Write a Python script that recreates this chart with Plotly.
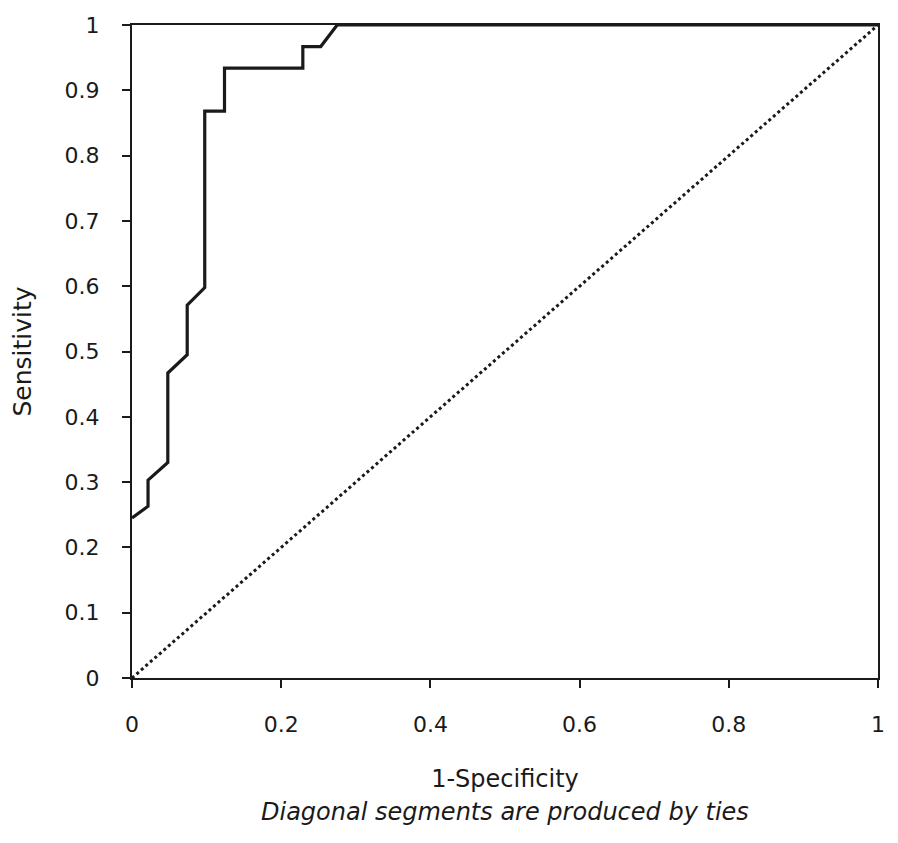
import plotly.graph_objects as go

# ROC curve (1-specificity, sensitivity)
fpr = [0, 0.0215, 0.0215, 0.048, 0.048, 0.074, 0.074, 0.0975, 0.0975,
       0.124, 0.124, 0.229, 0.229, 0.253, 0.275, 1]
tpr = [0.245, 0.263, 0.303, 0.330, 0.467, 0.495, 0.571, 0.598, 0.868,
       0.868, 0.934, 0.934, 0.967, 0.967, 1.0, 1.0]

# chance line
ref_x = [0, 1]
ref_y = [0, 1]

tick_vals_x = [0, 0.2, 0.4, 0.6, 0.8, 1]
tick_text_x = ["0", "0.2", "0.4", "0.6", "0.8", "1"]
tick_vals_y = [0, 0.1, 0.2, 0.3, 0.4, 0.5, 0.6, 0.7, 0.8, 0.9, 1]
tick_text_y = ["0", "0.1", "0.2", "0.3", "0.4", "0.5", "0.6", "0.7", "0.8", "0.9", "1"]

fnt = "DejaVu Sans, sans-serif"
ink = "#1a1a1a"

fig = go.Figure()
fig.add_trace(go.Scatter(x=ref_x, y=ref_y, mode="lines",
                         line=dict(color=ink, width=3, dash="dot"),
                         hoverinfo="skip"))
fig.add_trace(go.Scatter(x=fpr, y=tpr, mode="lines",
                         line=dict(color=ink, width=3.2)))

axis_common = dict(range=[0, 1], showgrid=False, zeroline=False,
                   showline=True, linecolor=ink, linewidth=2,
                   mirror=True, ticks="outside", ticklen=8, tickwidth=2,
                   tickcolor=ink, ticklabeloverflow="allow",
                   tickfont=dict(family=fnt, size=22, color=ink))

# page body keeps its 8px margin, so the figure is a bit smaller than the window
fig.update_layout(
    width=882, height=827,
    margin=dict(l=117, r=5, t=17, b=157),
    plot_bgcolor="white", paper_bgcolor="white",
    showlegend=False,
    xaxis=dict(axis_common, tickvals=tick_vals_x, ticktext=tick_text_x,
               ticklabelstandoff=18,
               title=dict(text="1-Specificity", standoff=34,
                          font=dict(family=fnt, size=24, color=ink))),
    yaxis=dict(axis_common, tickvals=tick_vals_y, ticktext=tick_text_y,
               ticklabelstandoff=18,
               title=dict(text="Sensitivity", standoff=34,
                          font=dict(family=fnt, size=25, color=ink))),
    annotations=[dict(text="<i>Diagonal segments are produced by ties</i>",
                      xref="paper", yref="paper", x=0.5, y=0, yshift=-134,
                      showarrow=False, yanchor="middle",
                      font=dict(family=fnt, size=24, color=ink))],
)

fig.write_html("out.html", config={"displayModeBar": False})
